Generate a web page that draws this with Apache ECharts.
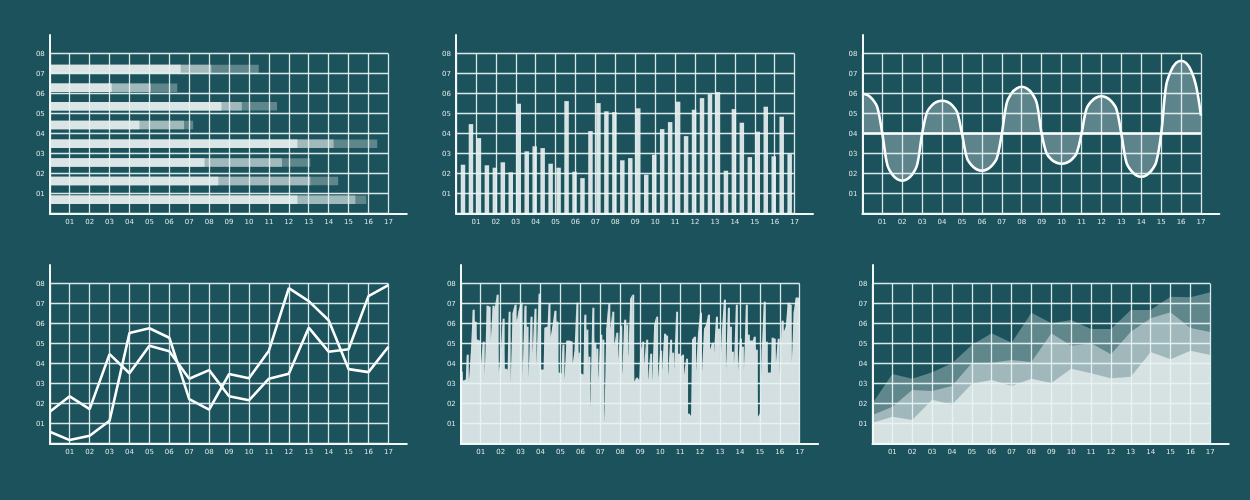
<!DOCTYPE html>
<html><head><meta charset="utf-8">
<script src="https://cdn.jsdelivr.net/npm/echarts@6/dist/echarts.min.js"></script>
<style>html,body{margin:0;padding:0;background:#1b525b;}#c{width:1250px;height:500px;}</style>
</head><body><div id="c"></div>
<script>
// ---------- tick labels ----------
const xTickLabels = ['01','02','03','04','05','06','07','08','09','10','11','12','13','14','15','16','17'];
const yTickLabels = ['01','02','03','04','05','06','07','08'];

// ---------- panel 1: horizontal segmented bars (bottom row first), cumulative segment ends ----------
const hbarRows  = ['r1','r2','r3','r4','r5','r6','r7','r8'];
const hbarLight = [12.43, 8.46, 7.77, 12.43, 4.50, 8.62, 3.11, 6.57];
const hbarMid   = [15.34, 13.08, 11.66, 14.25, 6.74, 9.64, 5.07, 8.11];
const hbarDark  = [15.89, 14.48, 13.08, 16.44, 7.20, 11.41, 6.40, 10.49];

// ---------- panel 2: columns ----------
const colValues = [2.45,4.48,3.78,2.42,2.30,2.57,2.07,5.50,3.12,3.37,
                   3.28,2.50,2.30,5.63,2.10,1.78,4.13,5.53,5.12,5.08,
                   2.67,2.78,5.27,1.95,2.95,4.23,4.58,5.60,3.88,5.20,
                   5.78,5.98,6.08,2.15,5.23,4.55,2.83,4.10,5.35,2.87,
                   4.85,2.98];

// ---------- panel 3: wave around a baseline (read every quarter unit) ----------
const waveBase = 4;
const waveX = [0,0.25,0.5,0.75,1,1.25,1.5,1.75,2,2.25,2.5,2.75,3,3.25,3.5,3.75,4,4.25,4.5,4.75,5,
               5.25,5.5,5.75,6,6.25,6.5,6.75,7,7.25,7.5,7.75,8,8.25,8.5,8.75,9,
               9.25,9.5,9.75,10,10.25,10.5,10.75,11,11.25,11.5,11.75,12,12.25,12.5,12.75,13,
               13.25,13.5,13.75,14,14.25,14.5,14.75,15,15.25,15.5,15.75,16,16.25,16.5,16.75,17];
const waveY = [6.0,5.94,5.73,5.32,4.0,2.45,1.96,1.73,1.65,1.73,1.96,2.45,4.0,5.09,5.43,5.6,5.65,5.6,5.43,5.09,4.0,
               2.78,2.4,2.21,2.15,2.21,2.4,2.78,4.0,5.55,6.04,6.27,6.35,6.27,6.04,5.55,4.0,
               3.01,2.7,2.55,2.5,2.55,2.7,3.01,4.0,5.24,5.62,5.81,5.87,5.81,5.62,5.24,4.0,
               2.58,2.14,1.92,1.85,1.92,2.14,2.58,4.0,6.41,7.16,7.54,7.65,7.54,7.16,6.41,4.9];

// ---------- panel 4: two lines ----------
const lineA = [1.60,2.37,1.73,4.48,3.52,4.90,4.62,3.25,3.68,2.37,2.17,3.25,3.50,5.80,4.60,4.72,7.38,7.93];
const lineB = [0.60,0.18,0.40,1.15,5.53,5.77,5.30,2.23,1.70,3.48,3.27,4.65,7.78,7.13,6.17,3.73,3.58,4.85];

// ---------- panel 5: dense thin bars ----------
const denseValues = [
 3.6,3.15,3.2,4.45,3.05,4.5,6.7,6.1,5.2,5.15,
 3.75,5.1,3.4,6.9,6.85,5.1,6.9,6.75,7.45,3.55,
 4.45,6.25,3.75,3.7,6.6,3.05,6.55,6.95,6.1,6.65,
 7.05,3.4,6.9,5.85,3.3,6.35,4.5,6.75,3.9,7.5,
 3.7,3.7,5.8,5.85,7.0,5.3,5.9,6.65,6.1,3.55,
 3.5,4.95,3.2,5.15,5.15,5.1,3.95,4.6,7.05,4.55,
 3.5,3.45,6.45,5.7,4.35,1.8,6.8,5.05,4.75,3.25,
 5.45,5.2,1.05,5.8,7.0,5.75,6.6,4.9,5.55,4.25,
 5.9,3.45,6.2,5.95,4.35,7.25,7.45,3.1,3.3,3.2,
 4.45,5.1,3.95,5.2,3.2,4.5,3.2,5.95,6.35,3.3,
 4.65,3.7,5.5,5.4,3.4,5.2,4.55,3.75,6.6,4.5,
 4.35,4.45,3.45,4.25,1.5,1.4,5.2,5.35,3.65,5.55,
 6.55,3.6,5.75,5.95,6.45,4.7,5.05,4.5,6.35,5.75,
 3.3,5.7,7.2,3.6,6.8,5.85,4.6,3.9,6.95,3.6,
 5.25,4.85,3.6,6.95,5.45,5.15,5.15,5.35,4.7,1.35,
 1.5,4.75,7.1,5.1,3.55,3.55,5.3,5.25,3.95,5.25,
 3.4,6.15,5.6,5.85,7.05,6.95,3.95,6.6,7.3,7.3
];

// ---------- panel 6: layered areas (upper boundary of each layer) ----------
const areaBottom = [1.05,1.35,1.18,2.20,1.95,3.00,3.18,2.88,3.25,3.03,3.75,3.52,3.27,3.35,4.58,4.22,4.65,4.43];
const areaMiddle = [1.43,1.85,2.68,2.63,2.88,4.03,4.05,4.18,4.08,5.52,4.90,5.02,4.47,5.60,6.27,6.57,5.78,5.58];
const areaTop    = [2.02,3.48,3.25,3.57,4.02,4.93,5.52,5.05,6.55,6.02,6.18,5.73,5.73,6.68,6.68,7.35,7.32,7.57];

// ---------- layout ----------
const BG = '#1b525b';
const GRID_COLOR = 'rgba(232,244,244,0.92)';
const AXIS_COLOR = '#f2f7f7';
const LABEL_COLOR = '#dbe8e9';
const panels = [
  {left:49.8,  top:53.7,  w:338.6, h:160},
  {left:456.0, top:53.7,  w:338.6, h:160},
  {left:862.4, top:53.7,  w:338.6, h:160},
  {left:49.8,  top:283.7, w:338.6, h:160},
  {left:460.8, top:283.7, w:338.9, h:160},
  {left:872.5, top:283.7, w:337.8, h:160}
];
const EXT_UP = 18.7, EXT_RIGHT = 18.4;

const grid = [], xAxis = [], yAxis = [], series = [];
const mainX = [], mainY = [];

const xFmt = v => (v >= 1 && v <= 17 && v % 1 === 0) ? xTickLabels[v - 1] : '';
const yFmt = v => (v >= 1 && v <= 8 && v % 1 === 0) ? yTickLabels[v - 1] : '';

panels.forEach((p) => {
  const gi = grid.length;
  grid.push({left:p.left, top:p.top, width:p.w, height:p.h, containLabel:false});
  mainX.push(xAxis.length);
  xAxis.push({gridIndex:gi, type:'value', min:0, max:17, interval:1, z:5,
    axisLine:{show:false}, axisTick:{show:false},
    axisLabel:{formatter:xFmt, fontSize:7, color:LABEL_COLOR, margin:5, fontFamily:'DejaVu Sans'},
    splitLine:{show:true, lineStyle:{color:GRID_COLOR, width:1.3}}});
  mainY.push(yAxis.length);
  yAxis.push({gridIndex:gi, type:'value', min:0, max:8, interval:1, z:5,
    axisLine:{show:false}, axisTick:{show:false},
    axisLabel:{formatter:yFmt, fontSize:7, color:LABEL_COLOR, margin:5, fontFamily:'DejaVu Sans'},
    splitLine:{show:true, lineStyle:{color:GRID_COLOR, width:1.3}}});
  const ai = grid.length;
  grid.push({left:p.left, top:p.top - EXT_UP, width:p.w + EXT_RIGHT, height:p.h + EXT_UP});
  xAxis.push({gridIndex:ai, type:'value', min:0, max:1, z:6,
    axisLine:{show:true, onZero:false, lineStyle:{color:AXIS_COLOR, width:2}},
    axisTick:{show:false}, axisLabel:{show:false}, splitLine:{show:false}});
  yAxis.push({gridIndex:ai, type:'value', min:0, max:1, z:6,
    axisLine:{show:true, onZero:false, lineStyle:{color:AXIS_COLOR, width:2}},
    axisTick:{show:false}, axisLabel:{show:false}, splitLine:{show:false}});
});

// ----- panel 1 bars -----
{
  const p = panels[0];
  const gi = grid.length;
  grid.push({left:p.left, top:59.6, width:p.w, height:149.5});
  const xi = xAxis.length;
  xAxis.push({gridIndex:gi, type:'value', min:0, max:17, show:false});
  const yi = yAxis.length;
  yAxis.push({gridIndex:gi, type:'category', data:hbarRows, show:false});
  const mk = (data, color) => ({type:'bar', xAxisIndex:xi, yAxisIndex:yi, data, barWidth:8.5, barGap:'-100%', z:2,
    itemStyle:{color}, silent:true});
  series.push(mk(hbarDark, '#5f868b'));
  series.push(mk(hbarMid, '#a2b9bc'));
  series.push(mk(hbarLight, '#dbe5e6'));
}

// ----- panel 2 columns -----
{
  const p = panels[1];
  const gi = grid.length;
  grid.push({left:p.left + 0.15 * 19.92, top:p.top, width:16.8 * 19.92, height:p.h});
  const xi = xAxis.length;
  xAxis.push({gridIndex:gi, type:'category', data:colValues.map((_, i) => 'c' + i), show:false});
  const yi = yAxis.length;
  yAxis.push({gridIndex:gi, type:'value', min:0, max:8, show:false});
  series.push({type:'bar', xAxisIndex:xi, yAxisIndex:yi, data:colValues, barWidth:4.5, z:2,
    itemStyle:{color:'#d6e2e3'}, silent:true});
}

// ----- panel 3 wave -----
series.push({type:'line', xAxisIndex:mainX[2], yAxisIndex:mainY[2],
  data:waveX.map((x, i) => [x, waveY[i]]), smooth:0.35, symbol:'none', z:2,
  lineStyle:{color:'#ffffff', width:2.6},
  areaStyle:{origin:waveBase, color:'rgba(255,255,255,0.42)'},
  markLine:{silent:true, symbol:'none', label:{show:false},
    lineStyle:{color:'#ffffff', width:2.6, type:'solid'}, data:[{yAxis:waveBase}]}});

// ----- panel 4 lines -----
[lineA, lineB].forEach(d => series.push({type:'line', xAxisIndex:mainX[3], yAxisIndex:mainY[3],
  data:d.map((v, i) => [i, v]), symbol:'none', z:2,
  lineStyle:{color:'#ffffff', width:2.6}}));

// ----- panel 5 dense bars -----
{
  const xi = xAxis.length;
  xAxis.push({gridIndex:xAxis[mainX[4]].gridIndex, type:'category', boundaryGap:true,
    data:denseValues.map((_, i) => 'd' + i), show:false});
  const DENSE = '#d3dfe0';
  // step-area underlay fills antialiasing seams between the thin bars
  series.push({type:'line', xAxisIndex:xi, yAxisIndex:mainY[4], data:denseValues, step:'middle',
    symbol:'none', z:1, silent:true, lineStyle:{width:0, color:DENSE}, areaStyle:{color:DENSE, opacity:1}});
  series.push({type:'bar', xAxisIndex:xi, yAxisIndex:mainY[4], data:denseValues,
    barWidth:'100%', barCategoryGap:'0%', z:2, silent:true,
    itemStyle:{color:DENSE}});
}

// ----- panel 6 layered areas -----
[[areaTop, '#5f878c'], [areaMiddle, '#a0b8bb'], [areaBottom, '#d6e1e2']].forEach(([d, c]) =>
  series.push({type:'line', xAxisIndex:mainX[5], yAxisIndex:mainY[5],
    data:d.map((v, i) => [i, v]), symbol:'none', z:2,
    lineStyle:{width:0, color:c}, areaStyle:{color:c, opacity:1}}));

const chart = echarts.init(document.getElementById('c'), null, {renderer:'canvas'});
chart.setOption({backgroundColor:BG, animation:false, grid, xAxis, yAxis, series});
</script></body></html>
